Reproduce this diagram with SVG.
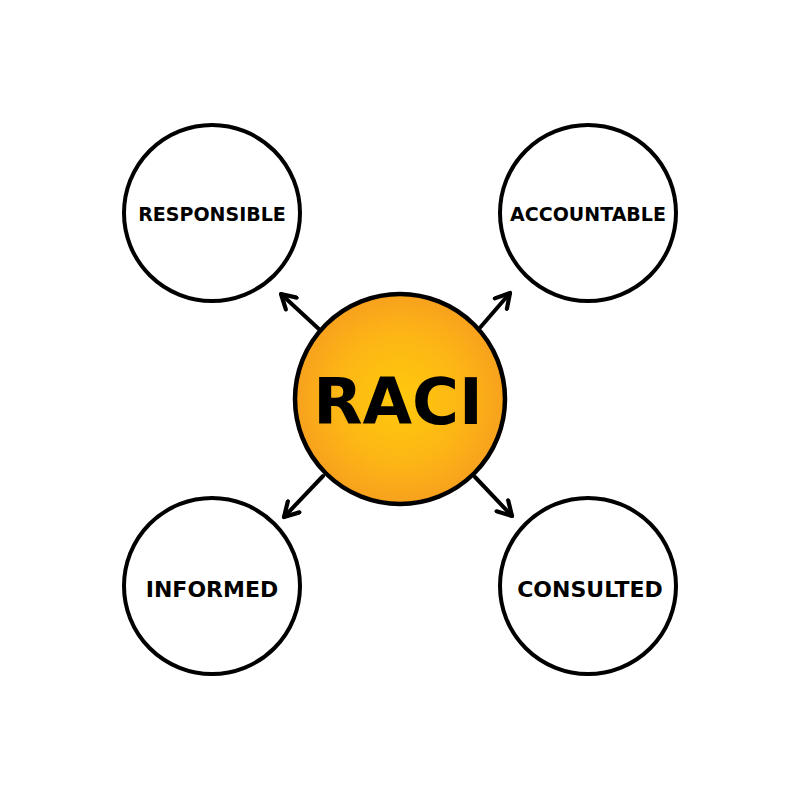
<svg xmlns="http://www.w3.org/2000/svg" width="800" height="800" viewBox="0 0 800 800">
<defs>
<radialGradient id="og" cx="50%" cy="50%" r="50%">
<stop offset="0" stop-color="#FFC90C"/>
<stop offset="0.6" stop-color="#FDB615"/>
<stop offset="1" stop-color="#F7A11D"/>
</radialGradient>
<marker id="ah" viewBox="0 0 20 20" refX="17" refY="10" markerWidth="20" markerHeight="20" markerUnits="userSpaceOnUse" orient="auto">
<path d="M3,2 L17,10 L3,18" fill="none" stroke="#000" stroke-width="4.2" stroke-linecap="round" stroke-linejoin="round"/>
</marker>
<style>
.ring{fill:#fff;stroke:#000;stroke-width:4}
.lbl{font-family:"DejaVu Sans",sans-serif;font-weight:bold;font-size:19px;fill:#000;text-anchor:middle;dominant-baseline:central}
.big{font-size:22px}
.conn{stroke:#000;stroke-width:4;fill:none;stroke-linecap:round}
</style>
</defs>
<rect width="800" height="800" fill="#fff"/>
<g id="connectors">
<line class="conn" x1="321" y1="331" x2="281" y2="294" marker-end="url(#ah)"/>
<line class="conn" x1="478" y1="330" x2="510" y2="293" marker-end="url(#ah)"/>
<line class="conn" x1="323" y1="476" x2="284" y2="517" marker-end="url(#ah)"/>
<line class="conn" x1="475" y1="477" x2="512" y2="516" marker-end="url(#ah)"/>
</g>
<g id="responsible">
<circle class="ring" cx="212" cy="213" r="88"/>
<text class="lbl" x="212" y="214">RESPONSIBLE</text>
</g>
<g id="accountable">
<circle class="ring" cx="588" cy="213" r="88"/>
<text class="lbl" x="588" y="214">ACCOUNTABLE</text>
</g>
<g id="informed">
<circle class="ring" cx="212" cy="586" r="88"/>
<text class="lbl big" x="212" y="589">INFORMED</text>
</g>
<g id="consulted">
<circle class="ring" cx="588" cy="586" r="88"/>
<text class="lbl big" x="590" y="589">CONSULTED</text>
</g>
<g id="raci">
<circle cx="400" cy="399" r="105" fill="url(#og)" stroke="#000" stroke-width="4.5"/>
<text x="398" y="402" font-family="DejaVu Sans, sans-serif" font-weight="bold" font-size="64" text-anchor="middle" dominant-baseline="central" fill="#000">RACI</text>
</g>
</svg>
